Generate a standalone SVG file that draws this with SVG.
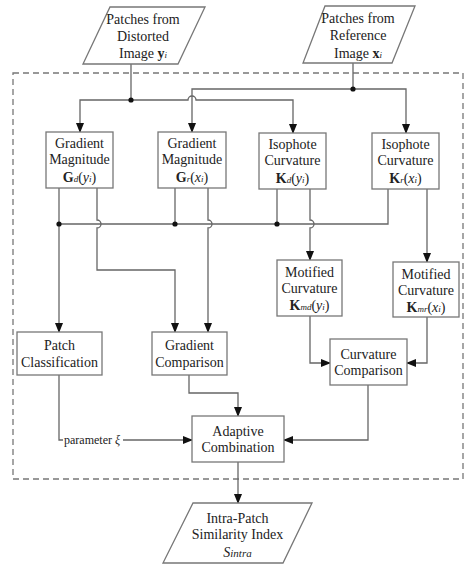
<svg xmlns="http://www.w3.org/2000/svg" width="474" height="569" viewBox="0 0 474 569">
<defs>
<marker id="arr" markerWidth="10" markerHeight="8" refX="9" refY="4" orient="auto" markerUnits="userSpaceOnUse">
<path d="M0,0 L10,4 L0,8 Z" fill="#111"/>
</marker>
<style>
.box{fill:#fff;stroke:#777;stroke-width:1.3}
.ln{fill:none;stroke:#666;stroke-width:1.3}
.ar{fill:none;stroke:#666;stroke-width:1.3;marker-end:url(#arr)}
.dot{fill:#111}
.t{font-size:14px;fill:#222;text-anchor:middle}
.b{font-weight:bold}
.i{font-style:italic}
.s{font-size:9px;font-style:italic}
.pl{font-size:12px;fill:#222;text-anchor:start}
</style>
</defs>
<rect x="0" y="0" width="474" height="569" fill="#fff"/>
<rect x="13" y="73" width="450" height="406" fill="none" stroke="#777" stroke-width="1.3" stroke-dasharray="6,4"/>

<g id="connectors">
<path class="ln" d="M131,64 V100"/>
<path class="ar" d="M131,100 H80 V132"/>
<path class="ar" d="M131,100 H188 A4,4 0 0 1 196,100 H293 V133"/>
<circle class="dot" cx="131" cy="100" r="2.6"/>
<path class="ln" d="M353,63 V89"/>
<path class="ar" d="M353,89 H192 V132"/>
<path class="ar" d="M353,89 H406 V133"/>
<circle class="dot" cx="353" cy="89" r="2.6"/>

<path class="ln" d="M388,189 V224 H59"/>
<path class="ar" d="M59,188 V332"/>
<path class="ln" d="M175,188 V224"/>
<path class="ln" d="M277,189 V224"/>
<circle class="dot" cx="59" cy="224" r="2.6"/>
<circle class="dot" cx="175" cy="224" r="2.6"/>
<circle class="dot" cx="277" cy="224" r="2.6"/>
<path class="ar" d="M97,188 V220 A4,4 0 0 1 97,228 V270 H175 V332"/>
<path class="ar" d="M208,188 V220 A4,4 0 0 1 208,228 V332"/>
<path class="ar" d="M310,189 V220 A4,4 0 0 1 310,228 V260"/>
<path class="ar" d="M427,189 V262"/>

<path class="ar" d="M310,316 V363 H330"/>
<path class="ar" d="M427,317 V363 H407"/>
<path class="ar" d="M189,375 V393 H238 V416"/>
<path class="ar" d="M368,385 V440 H284"/>
<path class="ln" d="M59,375 V440 H63"/>
<text x="64" y="444" class="pl" font-family="Liberation Serif">parameter <tspan class="i">ξ</tspan></text>
<path class="ar" d="M123,440 H192"/>
<path class="ar" d="M238,462 V503"/>
</g>

<g id="in-distorted">
<polygon class="box" points="110,7 205,7 178,64 83,64"/>
<text x="143" y="24" class="t" font-family="Liberation Serif">Patches from</text>
<text x="143" y="41" class="t" font-family="Liberation Serif">Distorted</text>
<text x="143" y="58" class="t" font-family="Liberation Serif">Image <tspan class="b">y</tspan><tspan class="s">i</tspan></text>
</g>
<g id="in-reference">
<polygon class="box" points="325,6 415,6 392,63 303,63"/>
<text x="358" y="23" class="t" font-family="Liberation Serif">Patches from</text>
<text x="358" y="40" class="t" font-family="Liberation Serif">Reference</text>
<text x="358" y="58" class="t" font-family="Liberation Serif">Image <tspan class="b">x</tspan><tspan class="s">i</tspan></text>
</g>

<g id="gm-d">
<rect class="box" x="46" y="132" width="67" height="56"/>
<text x="79.5" y="148" class="t" font-family="Liberation Serif">Gradient</text>
<text x="79.5" y="164" class="t" font-family="Liberation Serif">Magnitude</text>
<text x="79.5" y="182" class="t" font-family="Liberation Serif"><tspan class="b">G</tspan><tspan class="s">d</tspan>(<tspan class="i">y</tspan><tspan class="s">i</tspan>)</text>
</g>
<g id="gm-r">
<rect class="box" x="158" y="132" width="68" height="56"/>
<text x="192" y="148" class="t" font-family="Liberation Serif">Gradient</text>
<text x="192" y="164" class="t" font-family="Liberation Serif">Magnitude</text>
<text x="192" y="182" class="t" font-family="Liberation Serif"><tspan class="b">G</tspan><tspan class="s">r</tspan>(<tspan class="i">x</tspan><tspan class="s">i</tspan>)</text>
</g>
<g id="ic-d">
<rect class="box" x="259" y="133" width="67" height="56"/>
<text x="292.5" y="149" class="t" font-family="Liberation Serif">Isophote</text>
<text x="292.5" y="165" class="t" font-family="Liberation Serif">Curvature</text>
<text x="292.5" y="183" class="t" font-family="Liberation Serif"><tspan class="b">K</tspan><tspan class="s">d</tspan>(<tspan class="i">y</tspan><tspan class="s">i</tspan>)</text>
</g>
<g id="ic-r">
<rect class="box" x="372" y="133" width="67" height="56"/>
<text x="405.5" y="149" class="t" font-family="Liberation Serif">Isophote</text>
<text x="405.5" y="165" class="t" font-family="Liberation Serif">Curvature</text>
<text x="405.5" y="183" class="t" font-family="Liberation Serif"><tspan class="b">K</tspan><tspan class="s">r</tspan>(<tspan class="i">x</tspan><tspan class="s">i</tspan>)</text>
</g>

<g id="mc-d">
<rect class="box" x="277" y="260" width="65" height="56"/>
<text x="309.5" y="277" class="t" font-family="Liberation Serif">Motified</text>
<text x="309.5" y="293" class="t" font-family="Liberation Serif">Curvature</text>
<text x="309.5" y="310" class="t" font-family="Liberation Serif"><tspan class="b">K</tspan><tspan class="s">md</tspan>(<tspan class="i">y</tspan><tspan class="s">i</tspan>)</text>
</g>
<g id="mc-r">
<rect class="box" x="393" y="262" width="66" height="55"/>
<text x="426" y="279" class="t" font-family="Liberation Serif">Motified</text>
<text x="426" y="295" class="t" font-family="Liberation Serif">Curvature</text>
<text x="426" y="312" class="t" font-family="Liberation Serif"><tspan class="b">K</tspan><tspan class="s">mr</tspan>(<tspan class="i">x</tspan><tspan class="s">i</tspan>)</text>
</g>

<g id="patch-class">
<rect class="box" x="17" y="332" width="85" height="43"/>
<text x="59.5" y="350" class="t" font-family="Liberation Serif">Patch</text>
<text x="59.5" y="367" class="t" font-family="Liberation Serif">Classification</text>
</g>
<g id="grad-comp">
<rect class="box" x="152" y="332" width="75" height="43"/>
<text x="189.5" y="350" class="t" font-family="Liberation Serif">Gradient</text>
<text x="189.5" y="367" class="t" font-family="Liberation Serif">Comparison</text>
</g>
<g id="curv-comp">
<rect class="box" x="330" y="339" width="77" height="46"/>
<text x="368.5" y="359" class="t" font-family="Liberation Serif">Curvature</text>
<text x="368.5" y="375" class="t" font-family="Liberation Serif">Comparison</text>
</g>
<g id="adaptive">
<rect class="box" x="192" y="416" width="92" height="46"/>
<text x="238" y="436" class="t" font-family="Liberation Serif">Adaptive</text>
<text x="238" y="452" class="t" font-family="Liberation Serif">Combination</text>
</g>
<g id="output">
<polygon class="box" points="193,503 312,503 283,563 163,563"/>
<text x="237.5" y="523" class="t" font-family="Liberation Serif">Intra-Patch</text>
<text x="237.5" y="539" class="t" font-family="Liberation Serif">Similarity Index</text>
<text x="237.5" y="557" class="t i" font-family="Liberation Serif">S<tspan font-size="11">intra</tspan></text>
</g>
</svg>
